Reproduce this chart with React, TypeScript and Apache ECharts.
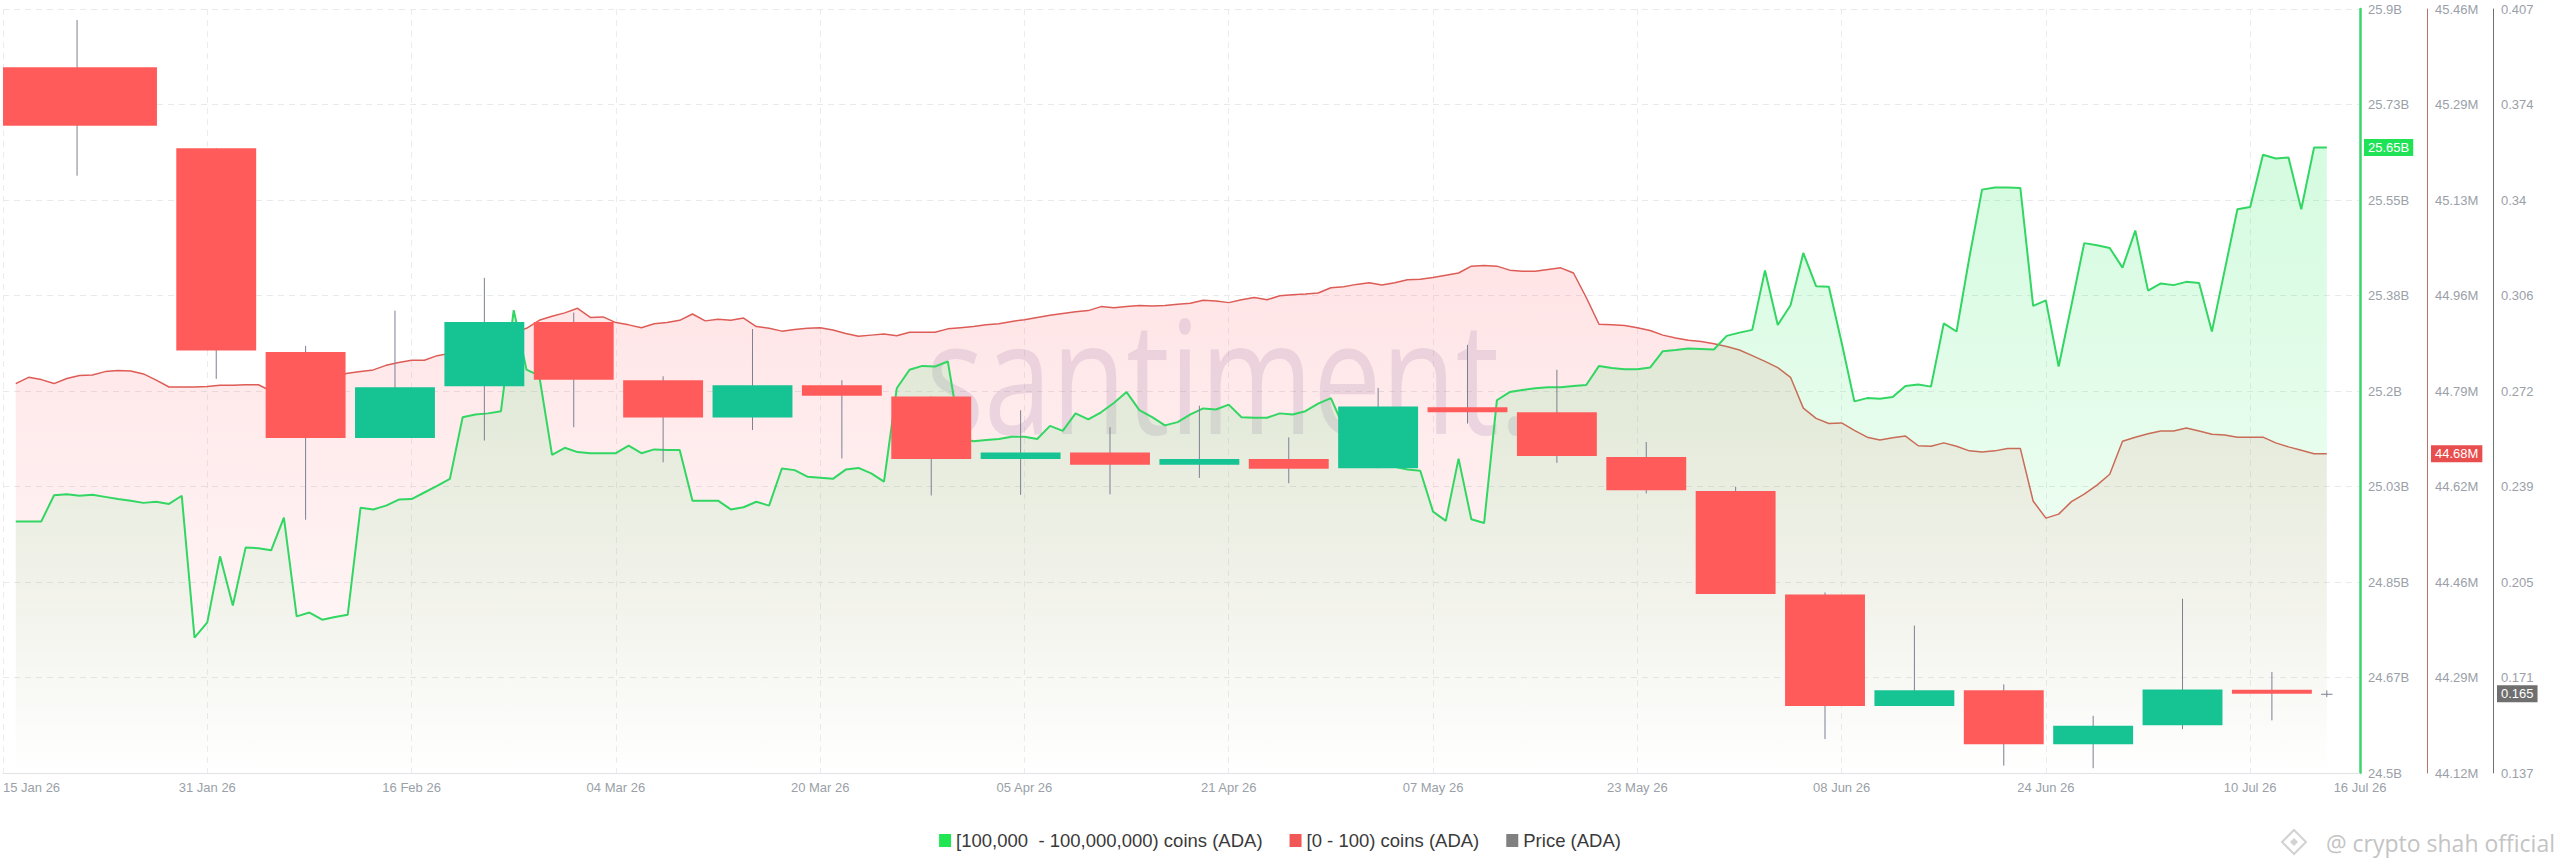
import React, { useEffect, useRef } from "react";
import * as echarts from "echarts";

// ---------- x axis (days since 15 Jan 26) ----------
const xTickLabels = ["15 Jan 26", "31 Jan 26", "16 Feb 26", "04 Mar 26", "20 Mar 26", "05 Apr 26", "21 Apr 26", "07 May 26", "23 May 26", "08 Jun 26", "24 Jun 26", "10 Jul 26"];
const xEndLabel = "16 Jul 26";
const X_MIN = 0;
const X_MAX = 184.6;
const X_STEP = 16;
const FIRST_DAY = 1; // first daily point of both holder series

// ---------- y axes ----------
const GREEN_MIN = 24.5, GREEN_MAX = 25.9;
const RED_MIN = 44.12, RED_MAX = 45.46;
const PRICE_MIN = 0.137, PRICE_MAX = 0.407;
const greenTicks = ["24.5B", "24.67B", "24.85B", "25.03B", "25.2B", "25.38B", "25.55B", "25.73B", "25.9B"];
const redTicks = ["44.12M", "44.29M", "44.46M", "44.62M", "44.79M", "44.96M", "45.13M", "45.29M", "45.46M"];
const priceTicks = ["0.137", "0.171", "0.205", "0.239", "0.272", "0.306", "0.34", "0.374", "0.407"];

// ---------- series names ----------
const GREEN_NAME = "[100,000  - 100,000,000) coins (ADA)";
const RED_NAME = "[0 - 100) coins (ADA)";
const PRICE_NAME = "Price (ADA)";

// [100,000 - 100,000,000) holders balance, billions ADA, daily from day 1
const greenValues = [
  24.961, 24.961, 24.961, 25.009, 25.011, 25.008, 25.010, 25.006, 25.002, 24.999,
  24.995, 24.997, 24.993, 25.008, 24.748, 24.776, 24.897, 24.807, 24.913, 24.912,
  24.908, 24.968, 24.787, 24.794, 24.781, 24.786, 24.790, 24.986, 24.983, 24.990,
  25.001, 25.002, 25.014, 25.026, 25.039, 25.152, 25.157, 25.159, 25.163, 25.348,
  25.239, 25.228, 25.083, 25.096, 25.088, 25.086, 25.086, 25.086, 25.100, 25.086,
  25.093, 25.092, 25.092, 24.999, 24.999, 24.999, 24.983, 24.987, 24.997, 24.990,
  25.058, 25.055, 25.043, 25.041, 25.039, 25.056, 25.059, 25.049, 25.034, 25.205,
  25.239, 25.246, 25.245, 25.254, 25.114, 25.108, 25.110, 25.112, 25.116, 25.116,
  25.112, 25.136, 25.127, 25.159, 25.148, 25.161, 25.178, 25.198, 25.165, 25.152,
  25.137, 25.143, 25.157, 25.168, 25.166, 25.175, 25.152, 25.151, 25.151, 25.159,
  25.157, 25.163, 25.177, 25.187, 25.134, 25.107, 25.088, 25.075, 25.061, 25.056,
  25.054, 24.979, 24.962, 25.076, 24.965, 24.958, 25.183, 25.198, 25.202, 25.205,
  25.207, 25.207, 25.209, 25.211, 25.246, 25.242, 25.240, 25.240, 25.243, 25.273,
  25.275, 25.278, 25.277, 25.276, 25.301, 25.307, 25.312, 25.421, 25.321, 25.357,
  25.453, 25.392, 25.391, 25.289, 25.181, 25.187, 25.186, 25.189, 25.209, 25.212,
  25.208, 25.324, 25.309, 25.444, 25.569, 25.573, 25.573, 25.572, 25.356, 25.366,
  25.245, 25.357, 25.471, 25.467, 25.462, 25.426, 25.494, 25.384, 25.397, 25.394,
  25.400, 25.398, 25.309, 25.421, 25.533, 25.537, 25.633, 25.626, 25.628, 25.533,
  25.646, 25.646,
];

// [0 - 100) holders balance, millions ADA, daily from day 1
const redValues = [
  44.803, 44.814, 44.810, 44.803, 44.812, 44.817, 44.818, 44.824, 44.826, 44.825,
  44.820, 44.809, 44.797, 44.797, 44.797, 44.798, 44.800, 44.800, 44.801, 44.801,
  44.790, 44.793, 44.798, 44.805, 44.810, 44.816, 44.821, 44.824, 44.827, 44.835,
  44.840, 44.844, 44.844, 44.852, 44.856, 44.856, 44.866, 44.875, 44.884, 44.893,
  44.900, 44.914, 44.921, 44.927, 44.935, 44.919, 44.920, 44.910, 44.906, 44.901,
  44.908, 44.910, 44.914, 44.925, 44.913, 44.916, 44.914, 44.918, 44.903, 44.900,
  44.895, 44.898, 44.900, 44.901, 44.897, 44.891, 44.886, 44.888, 44.890, 44.887,
  44.893, 44.893, 44.893, 44.899, 44.901, 44.903, 44.906, 44.908, 44.912, 44.915,
  44.919, 44.923, 44.926, 44.929, 44.931, 44.938, 44.936, 44.938, 44.940, 44.939,
  44.940, 44.942, 44.944, 44.949, 44.948, 44.945, 44.950, 44.954, 44.950, 44.957,
  44.959, 44.960, 44.962, 44.971, 44.973, 44.977, 44.980, 44.976, 44.980, 44.985,
  44.986, 44.989, 44.993, 44.997, 45.009, 45.010, 45.009, 45.002, 45.000, 45.000,
  45.003, 45.006, 44.997, 44.954, 44.907, 44.906, 44.905, 44.901, 44.896, 44.888,
  44.883, 44.879, 44.877, 44.873, 44.868, 44.862, 44.852, 44.842, 44.831, 44.814,
  44.760, 44.742, 44.733, 44.734, 44.721, 44.709, 44.704, 44.708, 44.711, 44.694,
  44.693, 44.699, 44.693, 44.685, 44.683, 44.685, 44.689, 44.689, 44.597, 44.567,
  44.574, 44.596, 44.609, 44.625, 44.644, 44.702, 44.709, 44.715, 44.720, 44.720,
  44.725, 44.720, 44.714, 44.713, 44.709, 44.709, 44.709, 44.699, 44.692, 44.686,
  44.680, 44.680,
];

// Price candles: centre day, period length (days), open, close, low, high
const candleDays = [5.8, 16.7, 23.7, 30.7, 37.7, 44.7, 51.7, 58.7, 65.7, 72.7, 79.7, 86.7, 93.7, 100.7, 107.7, 114.7, 121.7, 128.7, 135.7, 142.7, 149.7, 156.7, 163.7, 170.7, 177.7, 182];
const candleSpans = [14, 7, 7, 7, 7, 7, 7, 7, 7, 7, 7, 7, 7, 7, 7, 7, 7, 7, 7, 7, 7, 7, 7, 7, 7, 1];
const candleOpen = [0.3864, 0.3578, 0.2858, 0.2554, 0.2737, 0.2964, 0.2758, 0.2626, 0.2740, 0.2701, 0.2480, 0.2503, 0.2459, 0.2480, 0.2447, 0.2663, 0.2645, 0.2487, 0.2367, 0.2001, 0.1607, 0.1662, 0.1472, 0.1539, 0.1664, 0.1650];
const candleClose = [0.3657, 0.2863, 0.2554, 0.2733, 0.2964, 0.2760, 0.2626, 0.2740, 0.2703, 0.2480, 0.2503, 0.2459, 0.2480, 0.2445, 0.2665, 0.2645, 0.2490, 0.2369, 0.2003, 0.1607, 0.1662, 0.1472, 0.1537, 0.1665, 0.1650, 0.1650];
const candleLow = [0.3481, 0.2763, 0.2265, 0.2554, 0.2545, 0.2592, 0.2468, 0.2582, 0.2482, 0.2351, 0.2353, 0.2355, 0.2413, 0.2394, 0.2447, 0.2605, 0.2466, 0.2358, 0.2003, 0.1490, 0.1607, 0.1396, 0.1387, 0.1525, 0.1556, 0.1638];
const candleHigh = [0.4031, 0.3578, 0.2879, 0.3004, 0.3120, 0.2997, 0.2772, 0.2939, 0.2758, 0.2701, 0.2652, 0.2592, 0.2668, 0.2556, 0.2731, 0.2883, 0.2795, 0.2540, 0.2381, 0.2008, 0.1891, 0.1683, 0.1572, 0.1986, 0.1727, 0.1662];

const FONT = "'Liberation Sans', Arial, sans-serif";
const GRID = { left: 0, right: 200, top: 9, bottom: 94 };
const RED_OFFSET = 67;
const PRICE_OFFSET = 133;

function ticksOf(min: number, max: number, n: number) {
  const out: number[] = [];
  for (let i = 0; i < n; i++) out.push(min + ((max - min) * i) / (n - 1));
  return out;
}

function labelFor(labels: string[], min: number, max: number) {
  const step = (max - min) / (labels.length - 1);
  return (v: number) => {
    const i = Math.round((v - min) / step);
    return labels[i] ?? "";
  };
}

export default function App() {
  const ref = useRef<HTMLDivElement>(null);

  useEffect(() => {
    document.body.style.margin = "0";
    document.body.style.overflow = "hidden";
    if (!ref.current) return;
    const chart = echarts.init(ref.current, undefined, { renderer: "svg" });

    const greenData = greenValues.map((v, i) => [FIRST_DAY + i, v]);
    const redData = redValues.map((v, i) => [FIRST_DAY + i, v]);
    const candleData = candleDays.map((d, i) => [d, candleOpen[i], candleClose[i], candleLow[i], candleHigh[i], candleSpans[i]]);

    const yLabelBase = { color: "#9a9fa8", fontSize: 13, fontFamily: FONT, margin: 8 };

    const option: any = {
      animation: false,
      backgroundColor: "#ffffff",
      grid: GRID,
      legend: {
        top: 826,
        left: "center",
        icon: "rect",
        itemWidth: 12,
        itemHeight: 13,
        itemGap: 27,
        selectedMode: false,
        textStyle: { fontSize: 18.5, color: "#3a3a3a", fontFamily: FONT },
        data: [
          { name: GREEN_NAME, itemStyle: { color: "#21e651" } },
          { name: RED_NAME, itemStyle: { color: "#f25757" } },
          { name: PRICE_NAME, itemStyle: { color: "#808080" } },
        ],
      },
      xAxis: {
        type: "value",
        min: X_MIN,
        max: X_MAX,
        interval: X_STEP,
        axisLine: { show: true, onZero: false, lineStyle: { color: "#e2e3e6", width: 1 } },
        axisTick: { show: false },
        splitLine: { show: true, lineStyle: { color: "#ebecef", type: [6, 5], width: 1 } },
        axisLabel: {
          color: "#9a9fa8",
          fontSize: 13,
          fontFamily: FONT,
          margin: 8,
          alignMinLabel: "left",
          formatter: (v: number) => (v >= X_MAX - 0.01 ? xEndLabel : xTickLabels[Math.round(v / X_STEP)] ?? ""),
        },
      },
      yAxis: [
        {
          type: "value",
          position: "right",
          offset: 0,
          min: GREEN_MIN,
          max: GREEN_MAX,
          interval: 0.175,
          axisLine: { show: true, onZero: false, lineStyle: { color: "#3cd56c", width: 2.5 } },
          axisTick: { show: false },
          axisLabel: { ...yLabelBase, formatter: labelFor(greenTicks, GREEN_MIN, GREEN_MAX) },
          splitLine: { show: true, lineStyle: { color: "#e8e9ec", type: [6, 5], width: 1 } },
        },
        {
          type: "value",
          position: "right",
          offset: RED_OFFSET,
          min: RED_MIN,
          max: RED_MAX,
          axisLine: { show: true, onZero: false, lineStyle: { color: "#b9726a", width: 1 } },
          axisTick: { show: false, customValues: ticksOf(RED_MIN, RED_MAX, redTicks.length) },
          axisLabel: { ...yLabelBase, customValues: ticksOf(RED_MIN, RED_MAX, redTicks.length), formatter: labelFor(redTicks, RED_MIN, RED_MAX) },
          splitLine: { show: false },
        },
        {
          type: "value",
          position: "right",
          offset: PRICE_OFFSET,
          min: PRICE_MIN,
          max: PRICE_MAX,
          axisLine: { show: true, onZero: false, lineStyle: { color: "#707070", width: 1 } },
          axisTick: { show: false, customValues: ticksOf(PRICE_MIN, PRICE_MAX, priceTicks.length) },
          axisLabel: { ...yLabelBase, customValues: ticksOf(PRICE_MIN, PRICE_MAX, priceTicks.length), formatter: labelFor(priceTicks, PRICE_MIN, PRICE_MAX) },
          splitLine: { show: false },
        },
      ],
      series: [
        {
          name: RED_NAME,
          type: "line",
          yAxisIndex: 1,
          data: redData,
          showSymbol: false,
          symbol: "none",
          lineStyle: { color: "#dd5c56", width: 1.5 },
          itemStyle: { color: "#f25757" },
          areaStyle: {
            origin: "start",
            color: new echarts.graphic.LinearGradient(0, 0, 0, 1, [
              { offset: 0, color: "rgba(255,95,105,0.24)" },
              { offset: 0.6, color: "rgba(255,95,105,0.12)" },
              { offset: 1, color: "rgba(255,95,105,0.0)" },
            ]),
          },
          z: 2,
        },
        {
          name: GREEN_NAME,
          type: "line",
          yAxisIndex: 0,
          data: greenData,
          showSymbol: false,
          symbol: "none",
          lineStyle: { color: "#32d663", width: 2 },
          itemStyle: { color: "#21e651" },
          areaStyle: {
            origin: "start",
            color: new echarts.graphic.LinearGradient(0, 0, 0, 1, [
              { offset: 0, color: "rgba(40,235,95,0.28)" },
              { offset: 0.45, color: "rgba(40,235,95,0.17)" },
              { offset: 1, color: "rgba(40,235,95,0.0)" },
            ]),
          },
          z: 3,
        },
        {
          name: PRICE_NAME,
          type: "custom",
          yAxisIndex: 2,
          data: candleData,
          itemStyle: { color: "#808080" },
          encode: { x: 0, y: [1, 2, 3, 4] },
          clip: true,
          z: 5,
          renderItem: (params: any, api: any) => {
            const x = api.value(0);
            const o = api.value(1);
            const c = api.value(2);
            const l = api.value(3);
            const h = api.value(4);
            const span = api.value(5);
            const pO = api.coord([x, o]);
            const pC = api.coord([x, c]);
            const pL = api.coord([x, l]);
            const pH = api.coord([x, h]);
            const w = api.size([span * 0.894, 0])[0];
            const top = Math.min(pO[1], pC[1]);
            const hgt = Math.max(Math.abs(pO[1] - pC[1]), 1);
            const flat = c === o;
            const color = flat ? "#7b8093" : c > o ? "#16c392" : "#ff5b5b";
            return {
              type: "group",
              children: [
                { type: "line", shape: { x1: pH[0], y1: pH[1], x2: pL[0], y2: pL[1] }, style: { stroke: "#7b8093", lineWidth: 1 } },
                { type: "rect", shape: { x: pO[0] - w / 2, y: top, width: w, height: hgt }, style: { fill: color } },
              ],
            };
          },
        },
      ],
    };

    chart.setOption(option);

    const width = 2560;
    const axisX = width - GRID.right;
    const lastGreen = greenValues[greenValues.length - 1];
    const lastRed = redValues[redValues.length - 1];
    const lastPrice = candleClose[candleClose.length - 1];
    const gy = chart.convertToPixel({ yAxisIndex: 0 } as any, lastGreen) as number;
    const ry = chart.convertToPixel({ yAxisIndex: 1 } as any, lastRed) as number;
    const py = chart.convertToPixel({ yAxisIndex: 2 } as any, lastPrice) as number;

    const badge = (x: number, y: number, text: string, bg: string) => ({
      type: "text",
      x,
      y,
      z: 100,
      style: {
        text,
        fill: "#ffffff",
        font: `13px ${FONT}`,
        backgroundColor: bg,
        padding: [2, 4, 2, 4],
        verticalAlign: "middle",
        align: "left",
      },
    });

    chart.setOption({
      graphic: [
        {
          type: "text",
          x: 926,
          y: 372,
          scaleX: 0.77,
          z: 0,
          silent: true,
          style: {
            text: "santiment.",
            font: "158px 'Open Sans', sans-serif",
            fill: "rgba(120,100,165,0.17)",
            verticalAlign: "middle",
            align: "left",
          },
        },
        badge(axisX + 4, gy, `${lastGreen.toFixed(2)}B`, "#1fe257"),
        badge(axisX + RED_OFFSET + 4, ry, `${lastRed.toFixed(2)}M`, "#e84e4e"),
        badge(axisX + PRICE_OFFSET + 4, py, `${lastPrice.toFixed(3)}`, "#6f6f6f"),
        {
          type: "polygon",
          z: 100,
          shape: { points: [[2294, 830], [2306, 842], [2294, 854], [2282, 842]] },
          style: { fill: "none", stroke: "#d2d2d2", lineWidth: 2 },
        },
        {
          type: "polygon",
          z: 100,
          shape: { points: [[2294, 838], [2298, 842], [2294, 846], [2290, 842]] },
          style: { fill: "#d2d2d2" },
        },
        {
          type: "text",
          x: 2555,
          y: 843,
          z: 100,
          style: {
            text: "@ crypto shah official",
            font: "23px 'Open Sans', sans-serif",
            fill: "#c4c4c4",
            align: "right",
            verticalAlign: "middle",
          },
        },
      ],
    });

    return () => {
      chart.dispose();
    };
  }, []);

  return <div ref={ref} style={{ width: 2560, height: 867 }} />;
}
